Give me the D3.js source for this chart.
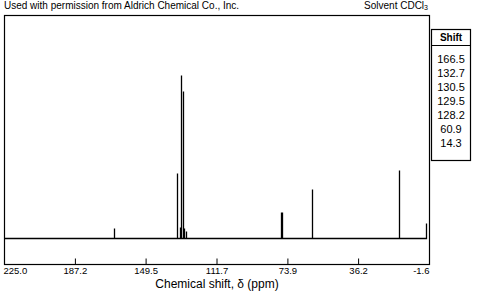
<!DOCTYPE html>
<html>
<head>
<meta charset="utf-8">
<script src="https://cdn.jsdelivr.net/npm/d3@7"></script>
<style>
  body { margin: 0; background: #fff; }
  text { font-family: "Liberation Sans", Arial, sans-serif; fill: #000; }
</style>
</head>
<body>
<div id="chart"></div>
<script>
/* Data */
var peakShifts = [166.5, 132.7, 131.4, 130.5, 129.5, 128.9, 128.2, 77.4, 77.0, 76.6, 60.9, 14.3, 0.0],
    peakHeights = [6, 40, 7, 100, 90, 6, 4, 16, 16, 15, 30, 42, 9],
    tickLabels = ["225.0", "187.2", "149.5", "111.7", "73.9", "36.2", "-1.6"],
    shiftTable = ["166.5", "132.7", "130.5", "129.5", "128.2", "60.9", "14.3"];

/* Settings */
var width = 481,
    height = 301,
    plotLeft = 4,
    plotRight = 429,
    plotTop = 15,
    plotBottom = 264,
    baseline = 238;

var x = d3.scaleLinear()
    .domain([225.0, -1.6])
    .range([plotLeft, plotRight]);

var y = d3.scaleLinear()
    .domain([0, 100])
    .range([baseline, 75]);

var svg = d3.select("#chart").append("svg")
    .attr("width", width)
    .attr("height", height)
    .attr("viewBox", "0 0 " + width + " " + height);

/* Header texts */
svg.append("text")
  .attr("x", 4)
  .attr("y", 9)
  .attr("font-size", 10)
  .text("Used with permission from Aldrich Chemical Co., Inc.");

var solvent = svg.append("text")
  .attr("x", 428)
  .attr("y", 9)
  .attr("font-size", 10)
  .attr("text-anchor", "end");
solvent.append("tspan").text("Solvent CDCl");
solvent.append("tspan").attr("font-size", 7).attr("dy", 1).text("3");

/* Frame */
svg.append("rect")
  .attr("x", plotLeft + 0.5)
  .attr("y", plotTop + 0.5)
  .attr("width", plotRight - plotLeft)
  .attr("height", plotBottom - plotTop)
  .attr("fill", "none")
  .attr("stroke", "#000")
  .attr("stroke-width", 1.2);

/* Spectrum as sticks on a baseline */
var points = [[225.0, 0]];
peakShifts.forEach(function(s, i) {
  points.push([s, 0], [s, peakHeights[i]]);
  if (i < peakShifts.length - 1) points.push([s, 0]);
});

var line = d3.line()
  .x(function(d) { return Math.round(x(d[0])) + 0.5; })
  .y(function(d) { return Math.round(y(d[1])) + 0.5; });

svg.append("path")
  .datum(points)
  .attr("fill", "none")
  .attr("stroke", "#000")
  .attr("stroke-width", 1.3)
  .attr("d", line);

/* X axis, ticks pointing in */
var axis = d3.axisBottom(x)
  .tickValues(tickLabels.map(Number))
  .tickFormat(function(d, i) { return tickLabels[i]; })
  .tickSizeInner(-6)
  .tickSizeOuter(0)
  .tickPadding(3);

var g = svg.append("g")
  .attr("transform", "translate(0," + (plotBottom + 0.5) + ")")
  .call(axis);
g.select(".domain").remove();
g.selectAll(".tick line").attr("stroke", "#000");
g.selectAll(".tick text")
  .attr("font-size", 9.5)
  .attr("font-family", "Liberation Sans, Arial, sans-serif")
  .attr("fill", "#000")
  .attr("text-anchor", function(d, i) {
    return i === 0 ? "start" : (i === tickLabels.length - 1 ? "end" : "middle");
  })
  .attr("dx", function(d, i) { return i === 0 ? -1 : 0; });

svg.append("text")
  .attr("x", 217)
  .attr("y", 288)
  .attr("font-size", 12)
  .attr("text-anchor", "middle")
  .text("Chemical shift, \u03b4 (ppm)");

/* Shift table */
var tx = 431, tw = 39, ty = 29, th = 131;
svg.append("rect")
  .attr("x", tx + 0.5)
  .attr("y", ty + 0.5)
  .attr("width", tw)
  .attr("height", th)
  .attr("fill", "none")
  .attr("stroke", "#000")
  .attr("stroke-width", 1.2);
svg.append("line")
  .attr("x1", tx).attr("x2", tx + tw + 1)
  .attr("y1", 45.5).attr("y2", 45.5)
  .attr("stroke", "#000")
  .attr("stroke-width", 1.2);
svg.append("text")
  .attr("x", tx + tw / 2 + 0.5)
  .attr("y", 41)
  .attr("font-size", 10)
  .attr("font-weight", "bold")
  .attr("text-anchor", "middle")
  .text("Shift");

var rowY = d3.scalePoint()
  .domain(shiftTable)
  .range([63, 147]);

svg.selectAll(".shift")
  .data(shiftTable)
  .enter().append("text")
  .attr("class", "shift")
  .attr("x", tx + tw / 2 + 0.5)
  .attr("y", function(d) { return rowY(d); })
  .attr("font-size", 11)
  .attr("text-anchor", "middle")
  .text(function(d) { return d; });
</script>
</body>
</html>
